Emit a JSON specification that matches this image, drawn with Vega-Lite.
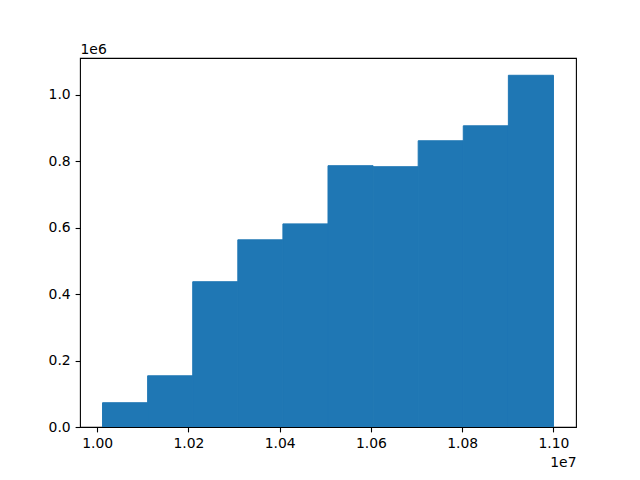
{
  "$schema": "https://vega.github.io/schema/vega-lite/v6.json",
  "width": 496,
  "height": 369,
  "autosize": "none",
  "padding": {"left": 80, "top": 58, "right": 64, "bottom": 53},
  "background": "white",
  "config": {
    "view": {"stroke": "black", "strokeWidth": 1.1},
    "font": "DejaVu Sans",
    "axis": {
      "domain": false,
      "grid": false,
      "ticks": true,
      "tickColor": "black",
      "tickSize": 4.9,
      "tickWidth": 1.1,
      "labelPadding": 4.9,
      "labelFont": "DejaVu Sans",
      "labelFontSize": 13.9,
      "labelColor": "black",
      "titleFont": "DejaVu Sans",
      "titleFontSize": 13.9,
      "titleFontWeight": "normal",
      "titleColor": "black"
    }
  },
  "data": {
    "values": [
      {"bin_start": 10011700, "bin_end": 10110530, "count": 73000},
      {"bin_start": 10110530, "bin_end": 10209360, "count": 154000},
      {"bin_start": 10209360, "bin_end": 10308190, "count": 437000},
      {"bin_start": 10308190, "bin_end": 10407020, "count": 563000},
      {"bin_start": 10407020, "bin_end": 10505850, "count": 611000},
      {"bin_start": 10505850, "bin_end": 10604680, "count": 786000},
      {"bin_start": 10604680, "bin_end": 10703510, "count": 783000},
      {"bin_start": 10703510, "bin_end": 10802340, "count": 861000},
      {"bin_start": 10802340, "bin_end": 10901170, "count": 906000},
      {"bin_start": 10901170, "bin_end": 11000000, "count": 1058000}
    ]
  },
  "mark": {"type": "bar", "color": "#1f77b4", "stroke": "#1f77b4", "strokeWidth": 1, "clip": true},
  "encoding": {
    "x": {
      "field": "bin_start",
      "type": "quantitative",
      "scale": {"domain": [9962300, 11049400], "nice": false, "zero": false},
      "axis": {
        "values": [10000000, 10200000, 10400000, 10600000, 10800000, 11000000],
        "labelExpr": "format(datum.value / 1e7, '.2f')",
        "title": "1e7",
        "titleX": 496,
        "titleY": 39,
        "titleAlign": "right",
        "titleBaseline": "alphabetic",
        "titleAnchor": null
      }
    },
    "x2": {"field": "bin_end"},
    "y": {
      "field": "count",
      "type": "quantitative",
      "scale": {"domain": [0, 1110000], "nice": false},
      "axis": {
        "values": [0, 200000, 400000, 600000, 800000, 1000000],
        "labelExpr": "format(datum.value / 1e6, '.1f')",
        "title": "1e6",
        "titleAngle": 0,
        "titleX": 0,
        "titleY": -5,
        "titleAlign": "left",
        "titleBaseline": "alphabetic",
        "titleAnchor": null
      }
    },
    "y2": {"datum": 0}
  }
}
